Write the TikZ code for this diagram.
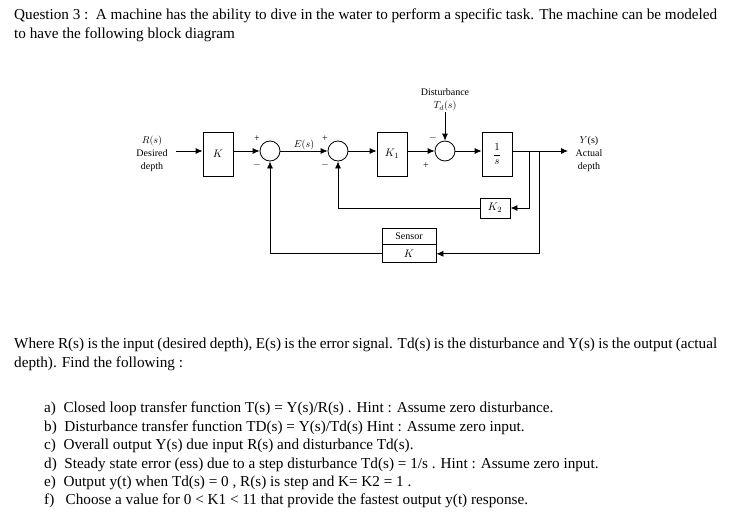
\documentclass[tikz,border=0pt]{standalone}
\usepackage{fontspec}
\setmainfont{Liberation Serif}
\usetikzlibrary{arrows.meta}
\begin{document}
\begin{tikzpicture}[x=1pt,y=-1pt,
  blk/.style={draw,thick,minimum width=30pt,minimum height=44pt,inner sep=0pt,font=\fontsize{11}{12}\selectfont},
  sm/.style={draw,thick,circle,minimum size=20pt,inner sep=0pt},
  sig/.style={thick,-{Latex[length=7pt,width=6pt]}},
  lab/.style={font=\fontsize{10}{13}\selectfont,inner sep=1pt},
  para/.style={text width=703pt,align=justify,inner sep=0pt,anchor=north west,font=\fontsize{15.2}{19}\selectfont}]
\useasboundingbox (0,0) rectangle (742,527);
\node[para] (q) at (14,9) {Question 3 :\ \ A machine has the ability to dive in the water to perform a specific task. The machine can be modeled to have the following block diagram};
\node[para] (w) at (14,338) {Where R(s) is the input (desired depth), E(s) is the error signal. Td(s) is the disturbance and Y(s) is the output (actual depth). Find the following :};
\node[anchor=north west,inner sep=0pt,font=\fontsize{15.2}{18.4}\selectfont,align=left] (list) at (44,402) {a)\ \ Closed loop transfer function T(s) = Y(s)/R(s) . Hint : Assume zero disturbance.\\
b)\ \ Disturbance transfer function TD(s) = Y(s)/Td(s) Hint : Assume zero input.\\
c)\ \ Overall output Y(s) due input R(s) and disturbance Td(s).\\
d)\ \ Steady state error (ess) due to a step disturbance Td(s) = 1/s . Hint : Assume zero input.\\
e)\ \ Output y(t) when Td(s) = 0 , R(s) is step and K= K2 = 1 .\\
f)\ \ \ Choose a value for 0 < K1 < 11 that provide the fastest output y(t) response.};
% diagram
\node[lab,align=center] (r) at (152,154) {$R(s)$\\Desired\\depth};
\node[blk] (k) at (218,154) {$K$};
\node[sm] (s1) at (270,151) {};
\node[sm] (s2) at (338,151) {};
\node[blk] (k1) at (392,154) {$K_1$};
\node[sm] (s3) at (445,151) {};
\node[blk] (is) at (497,154) {$\displaystyle\frac{1}{s}$};
\node[draw,thick,minimum width=30pt,minimum height=20pt,inner sep=0pt,font=\fontsize{11}{12}\selectfont] (k2) at (495,208) {$K_2$};
\node[draw,thick,minimum width=54pt,minimum height=16pt,inner sep=0pt,font=\fontsize{10}{12}\selectfont] (sen) at (409,236) {Sensor};
\node[draw,thick,minimum width=54pt,minimum height=18pt,inner sep=0pt,font=\fontsize{11}{12}\selectfont,anchor=north] (ks) at (sen.south) {$K$};
\node[lab,align=center] (y) at (589,154) {$Y$(s)\\Actual\\depth};
\node[lab,align=center] (d) at (445,100) {Disturbance\\$T_d(s)$};
\coordinate (b1) at (529,151);
\coordinate (b2) at (539,151);
\coordinate (rin) at (176,151);
\coordinate (yout) at (568,151);
\draw[sig] (rin) -- (k.west |- rin);
\draw[sig] (k.east |- rin) -- (s1);
\draw[sig] (s1) -- node[lab,above]{$E(s)$} (s2);
\draw[sig] (s2) -- (k1.west |- rin);
\draw[sig] (k1.east |- rin) -- (s3);
\draw[sig] (s3) -- (is.west |- rin);
\draw[sig] (is.east |- rin) -- (yout);
\draw[sig] (d.south) -- (s3.north);
\draw[sig] (b1) |- (k2.east);
\draw[sig] (k2.west) -| (s2.south);
\draw[sig] (b2) |- (ks.east);
\draw[sig] (ks.west) -| (s1.south);
\node[lab] at (257,139) {+}; \node[lab] at (257,165) {$-$};
\node[lab] at (325,139) {+}; \node[lab] at (325,165) {$-$};
\node[lab] at (433,138) {$-$}; \node[lab] at (426,166) {+};
\end{tikzpicture}
\end{document}
